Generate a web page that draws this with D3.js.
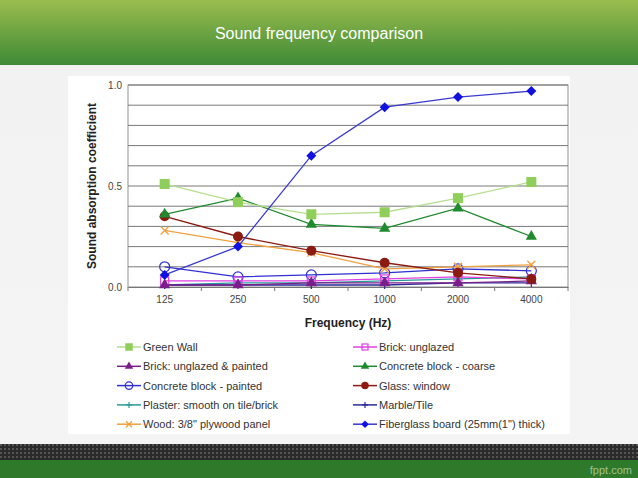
<!DOCTYPE html>
<html><head><meta charset="utf-8">
<script src="https://cdn.jsdelivr.net/npm/d3@7"></script>
<style>body{margin:0;overflow:hidden}svg{display:block}</style>
</head><body>
<svg id="c" width="638" height="478"></svg>
<script>
const categories = ["125","250","500","1000","2000","4000"];
const yTicks = [0.0, 0.5, 1.0];
const seriesNames = ["Green Wall","Brick: unglazed","Brick: unglazed & painted","Concrete block - coarse","Concrete block - painted","Glass: window","Plaster: smooth on tile/brick","Marble/Tile","Wood: 3/8\" plywood panel","Fiberglass board (25mm(1\") thick)"];
const greenWall = [0.51,0.42,0.36,0.37,0.44,0.52];
const brickUnglazed = [0.03,0.03,0.03,0.04,0.05,0.04];
const brickPainted = [0.01,0.01,0.02,0.02,0.02,0.03];
const concreteCoarse = [0.36,0.44,0.31,0.29,0.39,0.25];
const concretePainted = [0.10,0.05,0.06,0.07,0.09,0.08];
const glassWindow = [0.35,0.25,0.18,0.12,0.07,0.04];
const plaster = [0.01,0.02,0.02,0.03,0.04,0.05];
const marble = [0.01,0.01,0.01,0.01,0.02,0.02];
const wood = [0.28,0.22,0.17,0.09,0.10,0.11];
const fiberglass = [0.06,0.20,0.65,0.89,0.94,0.97];
const seriesValues = [greenWall,brickUnglazed,brickPainted,concreteCoarse,concretePainted,glassWindow,plaster,marble,wood,fiberglass];
const styles = [
 {c:"#8fce5a",m:"square",lc:"#b5df90"},
 {c:"#e040e0",m:"osquare"},
 {c:"#7a1f8a",m:"triangle"},
 {c:"#1f8a2e",m:"triangle"},
 {c:"#3030d0",m:"circle"},
 {c:"#8b1a10",m:"dot"},
 {c:"#2a9a9a",m:"plus"},
 {c:"#2a2a9a",m:"plus"},
 {c:"#f0a040",m:"x"},
 {c:"#1010e0",m:"diamond",lc:"#3a3ad0"}
];
const drawOrder=[4,6,7,1,2,8,5,3,0,9];
const svg=d3.select("#c");
const defs=svg.append("defs");
const g1=defs.append("linearGradient").attr("id","hg").attr("x1",0).attr("x2",0).attr("y1",0).attr("y2",1);
g1.append("stop").attr("offset","0").attr("stop-color","#9bbd4e");
g1.append("stop").attr("offset","1").attr("stop-color","#3e8a36");
const g2=defs.append("linearGradient").attr("id","bg").attr("x1",0).attr("x2",0).attr("y1",0).attr("y2",1);
g2.append("stop").attr("offset","0").attr("stop-color","#d8d8d8");
g2.append("stop").attr("offset","0.15").attr("stop-color","#f2f2f2");
g2.append("stop").attr("offset","1").attr("stop-color","#f4f4f4");
svg.append("rect").attr("width",638).attr("height",478).attr("fill","url(#bg)");
svg.append("rect").attr("width",638).attr("height",65).attr("fill","url(#hg)");
svg.append("text").attr("x",319).attr("y",39).attr("text-anchor","middle").attr("fill","#fff")
 .attr("font-family","Liberation Sans, Arial").attr("font-size",16).text("Sound frequency comparison");
svg.append("rect").attr("x",68).attr("y",76).attr("width",502).attr("height",358).attr("fill","#fff");
const pat=defs.append("pattern").attr("id","ck").attr("width",4).attr("height",4).attr("patternUnits","userSpaceOnUse");
pat.append("rect").attr("width",4).attr("height",4).attr("fill","#2a2a2a");
pat.append("rect").attr("width",2).attr("height",2).attr("fill","#555");
svg.append("rect").attr("x",0).attr("y",444).attr("width",638).attr("height",16).attr("fill","url(#ck)");
svg.append("rect").attr("x",0).attr("y",460).attr("width",638).attr("height",18).attr("fill","#2f7a2a");
svg.append("text").attr("x",632).attr("y",474).attr("text-anchor","end").attr("fill","#9fc090")
 .attr("font-family","Liberation Sans, Arial").attr("font-size",11).text("fppt.com");

const x=d3.scaleBand().domain(categories).range([128,568]);
const y=d3.scaleLinear().domain([0,1]).range([287,85]);
const font="Liberation Sans, Arial";
svg.append("g").selectAll("line").data(d3.range(1,11).map(i=>i/10)).join("line")
 .attr("x1",128).attr("x2",568).attr("y1",d=>y(d)).attr("y2",d=>y(d)).attr("stroke","#555").attr("stroke-width",0.8);
svg.append("rect").attr("x",128).attr("y",85).attr("width",440).attr("height",202).attr("fill","none").attr("stroke","#777").attr("stroke-width",0.8);
const ya=svg.append("g").attr("transform","translate(128,0)").call(d3.axisLeft(y).tickValues(yTicks).tickFormat(d3.format(".1f")).tickSize(0).tickPadding(6));
ya.select(".domain").remove();
ya.selectAll("text").attr("font-family",font).attr("font-size",10).attr("fill","#444");
const xa=svg.append("g").attr("transform","translate(0,287)").call(d3.axisBottom(x).tickSize(0).tickPadding(9));
xa.select(".domain").attr("stroke","#777");
xa.selectAll("text").attr("font-family",font).attr("font-size",10).attr("fill","#444");
svg.append("g").selectAll("line").data(d3.range(7)).join("line")
 .attr("x1",i=>128+i*440/6).attr("x2",i=>128+i*440/6).attr("y1",287).attr("y2",291).attr("stroke","#777");
svg.append("text").attr("x",348).attr("y",327).attr("text-anchor","middle").attr("font-family",font).attr("font-weight","bold").attr("font-size",12).attr("fill","#222").text("Frequency (Hz)");
svg.append("text").attr("transform","translate(96,186) rotate(-90)").attr("text-anchor","middle").attr("font-family",font).attr("font-weight","bold").attr("font-size",12).attr("fill","#222").text("Sound absorption coefficient");

function marker(sel,s,cx,cy,sc){
  const c=s.c;
  if(s.m==="square") sel.append("rect").attr("x",cx-5*sc).attr("y",cy-5*sc).attr("width",10*sc).attr("height",10*sc).attr("fill",c);
  else if(s.m==="osquare") sel.append("rect").attr("x",cx-4*sc).attr("y",cy-4*sc).attr("width",8*sc).attr("height",8*sc).attr("fill","none").attr("stroke",c).attr("stroke-width",1.2);
  else if(s.m==="triangle") sel.append("path").attr("d",d3.symbol(d3.symbolTriangle,55*sc*sc)()).attr("transform",`translate(${cx},${cy})`).attr("fill",c);
  else if(s.m==="circle") sel.append("circle").attr("cx",cx).attr("cy",cy).attr("r",5*sc).attr("fill","none").attr("stroke",c).attr("stroke-width",1.2);
  else if(s.m==="dot") sel.append("circle").attr("cx",cx).attr("cy",cy).attr("r",5*sc).attr("fill",c);
  else if(s.m==="plus") sel.append("path").attr("d",`M${cx-4*sc},${cy}H${cx+4*sc}M${cx},${cy-4*sc}V${cy+4*sc}`).attr("stroke",c).attr("stroke-width",1.2);
  else if(s.m==="x") sel.append("path").attr("d",`M${cx-4*sc},${cy-4*sc}L${cx+4*sc},${cy+4*sc}M${cx+4*sc},${cy-4*sc}L${cx-4*sc},${cy+4*sc}`).attr("stroke",c).attr("stroke-width",1.3);
  else if(s.m==="diamond") sel.append("path").attr("d",`M${cx},${cy-5*sc}L${cx+5*sc},${cy}L${cx},${cy+5*sc}L${cx-5*sc},${cy}Z`).attr("fill",c);
}
const line=d3.line().x((d,i)=>x(categories[i])+x.bandwidth()/2).y(d=>y(d));
const plot=svg.append("g");
drawOrder.forEach(k=>{
  const s=styles[k],vals=seriesValues[k];
  plot.append("path").attr("d",line(vals)).attr("fill","none").attr("stroke",s.lc||s.c).attr("stroke-width",1.3);
  vals.forEach((v,i)=>marker(plot,s,x(categories[i])+x.bandwidth()/2,y(v),1));
});
const leg=svg.append("g");
seriesNames.forEach((name,idx)=>{
  const col=idx%2,row=Math.floor(idx/2);
  const lx=col?353:117, ly=347+row*19.3;
  const s=styles[idx];
  leg.append("line").attr("x1",lx).attr("x2",lx+24).attr("y1",ly).attr("y2",ly).attr("stroke",s.lc||s.c).attr("stroke-width",1.5);
  marker(leg,s,lx+12,ly,0.75);
  leg.append("text").attr("x",lx+26).attr("y",ly+4).attr("font-family",font).attr("font-size",11).attr("fill","#333").text(name);
});
</script>
</body></html>
